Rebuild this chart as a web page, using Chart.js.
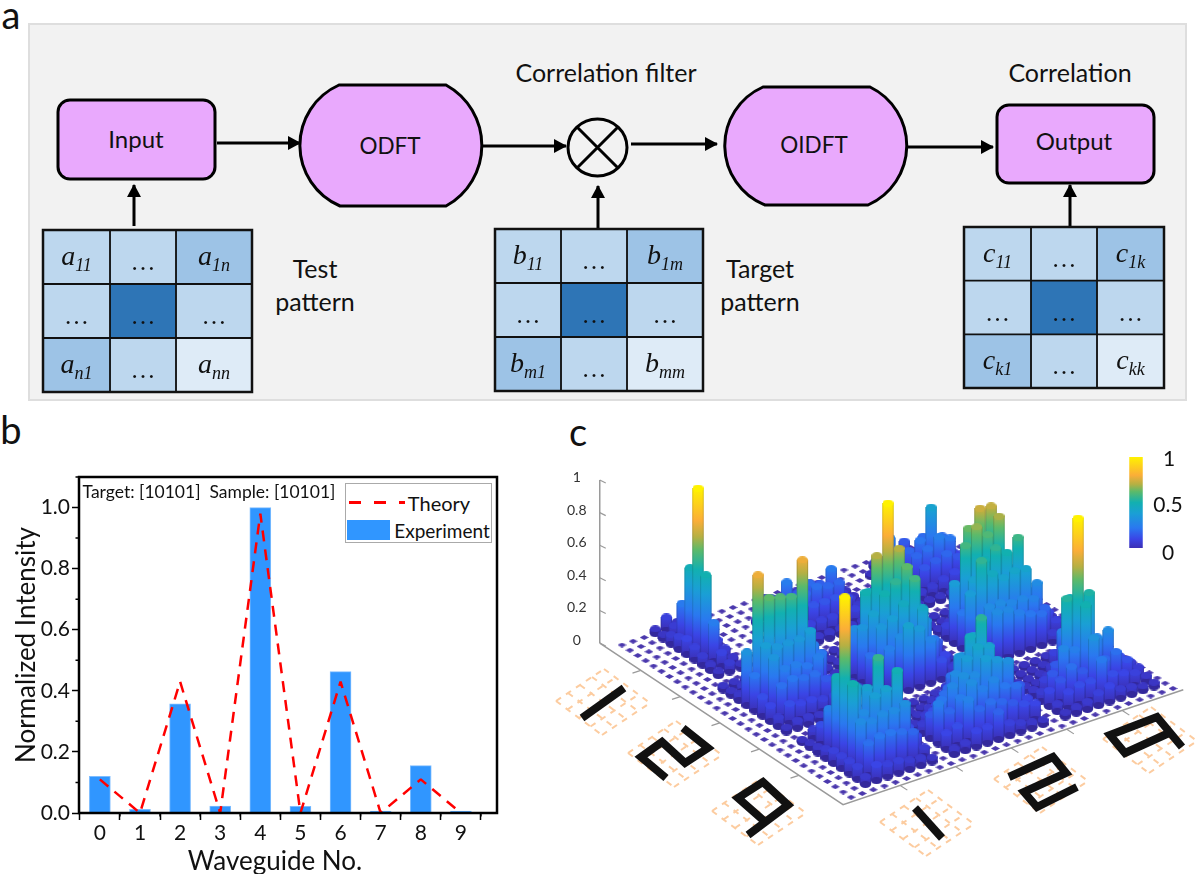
<!DOCTYPE html>
<html lang="en">
<head>
<meta charset="UTF-8">
<title>Optical correlation figure</title>
<script src="https://cdn.jsdelivr.net/npm/chart.js@4"></script>
<style>
html, body { margin: 0; padding: 0; background: #fff; }
body { width: 1200px; height: 874px; position: relative; overflow: hidden; font-family: Lato, "Open Sans", sans-serif; color: #111; }
canvas, .abs { position: absolute; }
.t { position: absolute; transform: translate(-50%, -50%); white-space: nowrap; line-height: 1; }
.cell { position: absolute; transform: translate(-50%, -50%); font: italic 28px "Liberation Serif", serif; white-space: nowrap; }
.cell sub { font-size: 18px; vertical-align: -6px; }
.dots { font-style: normal; font-size: 25px; transform: translate(-50%, -35%); }
</style>
</head>
<body>

<!-- panel a schematic -->
<div class="abs" style="left:28px;top:23px;width:1155px;height:374px;background:#f2f2f2;border:2px solid #dedede"></div>
<svg class="abs" style="left:0;top:0" width="1200" height="410">
  <defs>
    <marker id="head" markerUnits="userSpaceOnUse" markerWidth="14" markerHeight="14" refX="12" refY="7" orient="auto">
      <path d="M0 0 L13 7 L0 14 Z" fill="#000"/>
    </marker>
  </defs>
  <g fill="#e9a9fd" stroke="#000" stroke-width="3">
    <rect x="58" y="100" width="157" height="79" rx="12"/>
    <rect x="997" y="105" width="157" height="78" rx="12"/>
    <path d="M339 85 H446 A69 69 0 0 1 446 206 H340 A66 66 0 0 1 339 85 Z"/>
    <path d="M763 87 H870 A65 65 0 0 1 868 205 H765 A64 64 0 0 1 763 87 Z"/>
  </g>
  <g fill="none" stroke="#000" stroke-width="3">
    <ellipse cx="597.5" cy="147.5" rx="29.5" ry="28.5"/>
    <path d="M577 127 L618 168 M618 127 L577 168"/>
    <path d="M217 143 H300" marker-end="url(#head)"/>
    <path d="M483 146 H566" marker-end="url(#head)"/>
    <path d="M631 144 H717" marker-end="url(#head)"/>
    <path d="M908 147 H993" marker-end="url(#head)"/>
    <path d="M134 226 V185" marker-end="url(#head)"/>
    <path d="M598 228 V186" marker-end="url(#head)"/>
    <path d="M1070 226 V185" marker-end="url(#head)"/>
  </g>
</svg>
<canvas id="matrixA" style="left:41px;top:228px"></canvas>
<canvas id="matrixB" style="left:493px;top:227px"></canvas>
<canvas id="matrixC" style="left:962px;top:225px"></canvas>

<div class="t" style="left:11px;top:14px;font-size:38px">a</div>
<div class="t" style="left:11px;top:429px;font-size:38px">b</div>
<div class="t" style="left:578px;top:431px;font-size:38px">c</div>
<div class="t" style="left:136px;top:139px;font-size:24px">Input</div>
<div class="t" style="left:390px;top:146px;font-size:22.5px">ODFT</div>
<div class="t" style="left:814px;top:145px;font-size:22.5px">OIDFT</div>
<div class="t" style="left:1074px;top:141px;font-size:24px">Output</div>
<div class="t" style="left:606px;top:72px;font-size:25px">Correlation filter</div>
<div class="t" style="left:1070px;top:72px;font-size:25px">Correlation</div>
<div class="t" style="left:315px;top:268px;font-size:25px">Test</div>
<div class="t" style="left:315px;top:301px;font-size:25px">pattern</div>
<div class="t" style="left:760px;top:268px;font-size:25px">Target</div>
<div class="t" style="left:760px;top:301px;font-size:25px">pattern</div>

<!-- panel b -->
<canvas id="barChart" style="left:0;top:440px"></canvas>
<div class="t" style="left:209px;top:492px;font-size:17.5px">Target: [10101]&nbsp;&nbsp;Sample: [10101]</div>
<div class="abs" style="left:345px;top:483px;width:145px;height:58px;background:#fff;border:1px solid #aaa"></div>
<div class="abs" style="left:349px;top:501px;width:12px;height:3px;background:#ff0000"></div>
<div class="abs" style="left:374px;top:501px;width:12px;height:3px;background:#ff0000"></div>
<div class="abs" style="left:399px;top:501px;width:6px;height:3px;background:#ff0000"></div>
<div class="abs" style="left:347px;top:520px;width:43px;height:20px;background:#3096ff"></div>
<div class="t" style="left:439px;top:503px;font-size:20px">Theory</div>
<div class="t" style="left:442px;top:530px;font-size:19px">Experiment</div>
<div class="t" style="left:275px;top:860px;font-size:26px">Waveguide No.</div>

<!-- panel c -->
<canvas id="barGrid" style="left:540px;top:440px"></canvas>
<div id="zLabels"></div>
<div class="t" style="left:1169px;top:457px;font-size:21px">1</div>
<div class="t" style="left:1168px;top:503px;font-size:21px">0.5</div>
<div class="t" style="left:1168px;top:551px;font-size:21px">0</div>

<script>
// panel b values
const waveguides = [0, 1, 2, 3, 4, 5, 6, 7, 8, 9];
const experiment = [0.12, 0.012, 0.357, 0.023, 1.0, 0.022, 0.463, 0.006, 0.155, 0.006];
const theory = [0.11, 0, 0.43, 0, 0.98, 0, 0.43, 0, 0.11, 0];
const yTicks = [0, 0.2, 0.4, 0.6, 0.8, 1.0];

// panel a matrices: colour level of each cell, column widths, cell text
const cellLevels = [[1, 1, 2], [1, 3, 1], [2, 1, 0]];
const levelColors = ['#deebf7', '#bdd7ee', '#9dc3e6', '#2e75b6'];
const colsA = [67, 66, 76];
const colsB = [66, 66, 76];
const colsC = [67, 66, 67];
const textA = [['a', '11'], null, ['a', '1n'], null, null, null, ['a', 'n1'], null, ['a', 'nn']];
const textB = [['b', '11'], null, ['b', '1m'], null, null, null, ['b', 'm1'], null, ['b', 'mm']];
const textC = [['c', '11'], null, ['c', '1k'], null, null, null, ['c', 'k1'], null, ['c', 'kk']];

// panel c heights in percent, one 9x9 block per target/sample pair (rows go along the left edge)
const corrA = [
  [0,0,0,3,8,3,0,0,0],[0,0,0,3,6,4,0,0,0],[0,0,0,6,23,6,0,0,0],[0,0,0,8,48,8,0,0,0],[0,0,0,10,100,10,0,0,0],
  [0,0,0,8,50,8,0,0,0],[0,0,0,6,24,6,0,0,0],[0,0,0,4,9,4,0,0,0],[0,0,0,3,6,3,0,0,0]];
const corrB = [
  [0,0,3,3,3,3,3,3,3],[0,0,3,4,4,4,4,4,3],[0,0,4,6,6,6,6,6,4],[0,0,33,78,62,60,58,78,24],[0,0,22,38,35,35,35,38,22],
  [0,0,12,34,25,25,22,25,10],[0,0,10,20,22,20,20,15,8],[0,0,6,12,10,10,8,8,5],[0,0,3,5,5,4,4,3,3]];
const corrC = [
  [0,0,2,6,3,2,2,2,2],[0,0,3,12,5,3,3,3,2],[0,0,4,25,5,5,5,4,3],[0,0,6,48,10,8,8,6,3],[0,0,8,100,43,40,56,30,6],
  [0,0,8,50,30,38,40,49,12],[0,0,8,30,28,30,30,32,10],[0,0,8,20,22,22,20,18,6],[0,0,5,10,8,8,6,5,3]];
const corrD = [
  [0,0,0,0,0,0,0,0,0],[0,0,5,2,2,2,2,2,0],[0,2,8,3,3,3,3,3,2],[2,3,10,6,6,6,8,4,2],[2,6,24,15,19,16,23,6,2],
  [2,6,18,18,20,18,18,6,2],[2,5,12,14,14,14,12,5,2],[2,3,8,8,8,8,8,3,2],[0,2,4,4,4,4,4,2,0]];
const corrE = [
  [2,2,2,3,4,3,2,2,2],[2,2,3,6,8,6,3,2,2],[2,3,8,15,25,15,8,3,2],[2,8,20,45,55,45,15,6,2],[3,30,50,70,100,70,30,10,3],
  [3,34,40,50,55,62,35,12,3],[3,20,35,38,45,58,30,15,3],[2,12,25,30,28,43,22,10,2],[2,6,12,40,36,27,12,6,2]];
const corrF = [
  [2,2,2,2,3,5,5,2,2],[2,2,2,4,6,12,15,5,2],[2,3,5,8,20,30,40,15,5],[3,6,10,18,35,45,54,25,6],[6,12,20,30,37,42,40,28,8],
  [15,22,28,32,30,38,35,32,15],[25,18,24,31,25,28,22,20,10],[10,12,26,18,20,18,15,12,10],[4,5,10,10,17,8,6,4,3]];
const corrG = [
  [0,0,0,0,0,0,0,0,0],[0,0,3,2,2,2,2,0,0],[0,2,8,5,15,5,5,2,0],[0,10,25,10,12,19,15,3,0],[2,8,15,18,22,40,20,8,2],
  [2,5,12,18,20,25,22,10,2],[2,3,8,14,16,18,14,6,2],[2,3,5,6,8,10,8,4,2],[0,3,3,3,3,3,3,3,0]];
const corrH = [
  [2,2,2,3,3,3,2,2,2],[2,2,3,10,10,4,2,2,2],[3,5,20,30,30,15,3,2,2],[8,20,63,73,72,20,6,2,2],[37,58,67,60,69,35,10,3,2],
  [22,40,50,55,50,57,22,8,2],[37,55,45,40,42,41,30,10,3],[10,30,30,28,28,26,18,8,3],[5,30,29,25,22,20,6,3,2]];
const corrI = [
  [2,2,2,2,3,2,2,2,2],[2,2,2,3,8,3,2,2,2],[2,2,3,5,24,5,3,2,2],[3,3,5,10,48,10,5,3,2],[4,8,15,53,100,52,20,8,3],
  [6,15,28,25,50,28,30,12,6],[10,14,20,15,33,18,20,13,6],[5,10,12,12,23,12,10,8,4],[3,4,5,8,10,6,5,3,3]];
const blockGrid = [[corrA, corrD, corrG], [corrB, corrE, corrH], [corrC, corrF, corrI]];
const zTicks = [0, 0.2, 0.4, 0.6, 0.8, 1];

// colour ramp of the 3D bars
const rampZ = [0, 0.1, 0.22, 0.38, 0.5, 0.62, 0.7, 0.8, 1];
const rampC = ['#3b2fb5', '#3a45e6', '#2a78f0', '#1a9fd5', '#12b0b0', '#5cba6a', '#b5b043', '#fbae38', '#fff200'];

// digit strokes on the floor of panel c
const digitStrokes = [
  [[582,718],[624,688]],
  [[666,778],[641,757],[662,742],[685,763],[708,748],[683,728]],
  [[748,835],[788,805],[763,782],[738,798],[763,820]],
  [[915,808],[942,838]],
  [[1009,777],[1053,757],[1066,773],[1024,792],[1037,807],[1077,787]],
  [[1182,747],[1157,717],[1110,735],[1125,753],[1169,733]]
];
const digitCenters = [[603,702],[675,754],[759,812],[927,823],[1041,780],[1150,740]];

Chart.defaults.animation = false;
Chart.defaults.font.family = 'Lato';
Chart.defaults.plugins.legend.display = false;
Chart.defaults.plugins.tooltip.enabled = false;

function sizeCanvas(el, w, h) {
  el.style.width = w + 'px';
  el.style.height = h + 'px';
  el.width = w;
  el.height = h;
}

const matrixFrame = {
  id: 'matrixFrame',
  afterDraw(chart) {
    const { ctx, chartArea: a } = chart;
    ctx.save();
    ctx.strokeStyle = '#111';
    ctx.lineWidth = 2.5;
    ctx.strokeRect(a.left, a.top, a.right - a.left, a.bottom - a.top);
    ctx.restore();
  }
};

// ---- panel a: matrices are stacked bars, one dataset per column
function drawMatrix(id, cols, height, texts) {
  const el = document.getElementById(id);
  const width = cols.reduce((a, b) => a + b, 0);
  sizeCanvas(el, width + 4, height + 4);
  new Chart(el, {
    type: 'bar',
    data: {
      labels: ['r1', 'r2', 'r3'],
      datasets: cols.map((w, c) => ({
        data: [w, w, w],
        backgroundColor: cellLevels.map(row => levelColors[row[c]]),
        borderColor: '#111',
        borderWidth: 1.25,
        borderSkipped: false,
        barPercentage: 1,
        categoryPercentage: 1
      }))
    },
    options: {
      indexAxis: 'y',
      responsive: false,
      layout: { padding: 2 },
      scales: {
        x: { stacked: true, display: false, min: 0, max: width },
        y: { stacked: true, display: false }
      }
    },
    plugins: [matrixFrame]
  });
  const left = parseFloat(el.style.left) + 2;
  const top = parseFloat(el.style.top) + 2;
  let x = left;
  cols.forEach((w, c) => {
    for (let r = 0; r < 3; r++) {
      const d = document.createElement('div');
      const t = texts[r * 3 + c];
      d.className = t ? 'cell' : 'cell dots';
      d.innerHTML = t ? t[0] + '<sub>' + t[1] + '</sub>' : '\u2026';
      d.style.left = (x + w / 2) + 'px';
      d.style.top = (top + (r + 0.5) * height / 3 + 1) + 'px';
      document.body.appendChild(d);
    }
    x += w;
  });
}
drawMatrix('matrixA', colsA, 162, textA);
drawMatrix('matrixB', colsB, 162, textB);
drawMatrix('matrixC', colsC, 161, textC);

// ---- panel b
const frameAndMinorTicks = {
  id: 'frameAndMinorTicks',
  afterDraw(chart) {
    const { ctx, chartArea: a, scales: { x, y } } = chart;
    ctx.save();
    ctx.strokeStyle = '#000';
    ctx.lineWidth = 1.5;
    ctx.beginPath();
    waveguides.forEach(v => {
      const px = x.getPixelForValue(v + 0.5);
      ctx.moveTo(px, a.bottom);
      ctx.lineTo(px, a.bottom + 3.5);
    });
    yTicks.forEach(v => {
      const py = y.getPixelForValue(v + 0.1);
      ctx.moveTo(a.left, py);
      ctx.lineTo(a.left - 3.5, py);
    });
    ctx.stroke();
    ctx.lineWidth = 2.5;
    ctx.strokeRect(a.left, a.top, a.right - a.left, a.bottom - a.top);
    ctx.restore();
  }
};
const barEl = document.getElementById('barChart');
sizeCanvas(barEl, 510, 434);
new Chart(barEl, {
  type: 'bar',
  data: {
    datasets: [
      {
        type: 'line',
        label: 'Theory',
        data: waveguides.map((w, i) => ({ x: w, y: theory[i] })),
        borderColor: '#ff0000',
        borderWidth: 2.5,
        borderDash: [11, 8],
        borderJoinStyle: 'bevel',
        pointRadius: 0,
        tension: 0
      },
      {
        label: 'Experiment',
        data: waveguides.map((w, i) => ({ x: w, y: experiment[i] })),
        backgroundColor: '#3096ff',
        borderColor: '#7cbcff',
        borderWidth: 1,
        barThickness: 21
      }
    ]
  },
  options: {
    responsive: false,
    layout: { padding: { top: 37, right: 13 } },
    scales: {
      x: {
        type: 'linear',
        offset: false,
        min: -0.52,
        max: 9.9,
        afterBuildTicks: s => { s.ticks = waveguides.map(v => ({ value: v })); },
        afterFit: s => { s.height = 61; },
        ticks: { color: '#111', font: { size: 21 }, padding: 1, maxRotation: 0, autoSkip: false, callback: v => String(v) },
        grid: { drawOnChartArea: false, tickLength: 7, tickColor: '#000', tickWidth: 1.5 },
        border: { display: false }
      },
      y: {
        min: 0,
        max: 1.1,
        afterBuildTicks: s => { s.ticks = yTicks.map(v => ({ value: v })); },
        afterFit: s => { s.width = 79; },
        ticks: { color: '#111', font: { size: 21 }, padding: 2, callback: v => v.toFixed(1) },
        grid: { drawOnChartArea: false, tickLength: 7, tickColor: '#000', tickWidth: 1.5 },
        border: { display: false },
        title: { display: true, text: 'Normalized Intensity', color: '#111', font: { size: 26 }, padding: { top: 11, bottom: 0 } }
      }
    }
  },
  plugins: [frameAndMinorTicks]
});

// ---- panel c: a projected bar grid on a chart whose scales run in page pixels
const GRID = 30;
function floorX(i, j) { return 622 + 7.9 * i + 11.1 * j; }
function floorY(i, j) { return 645 + 5.25 * i - 3.75 * j; }
const Z_PX = 163;

function hexToRgb(hex) {
  return [1, 3, 5].map(k => parseInt(hex.substr(k, 2), 16));
}
function rampColor(z, dark) {
  let k = 0;
  while (k < rampZ.length - 2 && z > rampZ[k + 1]) k++;
  const t = Math.min(1, (z - rampZ[k]) / (rampZ[k + 1] - rampZ[k]));
  const a = hexToRgb(rampC[k]);
  const b = hexToRgb(rampC[k + 1]);
  const f = dark ? 0.86 : 1;
  const c = a.map((v, n) => Math.round((v + (b[n] - v) * t) * f));
  return 'rgb(' + c.join(',') + ')';
}
function pillarGradient(ctx, h, base, dark) {
  const chart = ctx.chart;
  const sy = chart.scales.y;
  if (!sy || !chart.chartArea) return rampColor(h, dark);
  const y0 = sy.getPixelForValue(base);
  const y1 = sy.getPixelForValue(base - Z_PX * h);
  const g = chart.ctx.createLinearGradient(0, y0, 0, y1);
  g.addColorStop(0, rampColor(0, dark));
  rampZ.forEach(z => { if (z > 0 && z < h) g.addColorStop(z / h, rampColor(z, dark)); });
  g.addColorStop(1, rampColor(h, dark));
  return g;
}
function ellipseMark(color, w, h, diamond) {
  const c = document.createElement('canvas');
  c.width = w;
  c.height = h;
  const g = c.getContext('2d');
  g.fillStyle = color;
  g.beginPath();
  if (diamond) {
    g.moveTo(0, h / 2); g.lineTo(w / 2, 0); g.lineTo(w, h / 2); g.lineTo(w / 2, h); g.closePath();
  } else {
    g.ellipse(w / 2, h / 2, w / 2, h / 2, 0, 0, Math.PI * 2);
  }
  g.fill();
  return c;
}

// height of a grid cell, looked up in its block
function heightAt(i, j) {
  const r = Math.floor(i / 10), c = Math.floor(j / 10);
  const a = i % 10, b = j % 10;
  if (a === 9 || b === 9) return 0;
  return blockGrid[r][c][a][b] / 100;
}

const lineSet = (pts, color, width, extra) => Object.assign({
  data: pts.map(p => ({ x: p[0], y: p[1] })),
  showLine: true,
  borderColor: color,
  borderWidth: width,
  pointRadius: 0
}, extra || {});

// back to front; the array is reversed at the end because Chart.js paints the first dataset last
const layers = [];
const corner = (i, j) => [floorX(i, j), floorY(i, j)];
const L = corner(-1.2, -1.15), B = corner(29.6, -1.15), R = corner(29.6, 29.5);

// axes and ticks
layers.push(lineSet([L, [L[0], L[1] - Z_PX]], '#9a9a9a', 1.5));
zTicks.forEach(z => layers.push(lineSet([[L[0], L[1] - Z_PX * z], [L[0] + 6, L[1] - Z_PX * z + 3]], '#9a9a9a', 1.2)));
layers.push(lineSet([L, B, R], '#9a9a9a', 1.5));
[4, 9, 14, 19, 24].forEach(k => {
  layers.push(lineSet([corner(k, -1.15), corner(k, -1.9)], '#9a9a9a', 1.2));
  layers.push(lineSet([corner(29.6, k), corner(30.5, k)], '#9a9a9a', 1.2));
});

// orange dashed pattern behind each digit
digitCenters.forEach(c => {
  const ax = [23, 17], bx = [24, -16];
  [-1, -0.5, 0, 0.5, 1].forEach(k => {
    layers.push(lineSet([[c[0] + ax[0] * k - bx[0], c[1] + ax[1] * k - bx[1]], [c[0] + ax[0] * k + bx[0], c[1] + ax[1] * k + bx[1]]],
      '#fccca0', 2, { borderDash: [6, 6] }));
    layers.push(lineSet([[c[0] + bx[0] * k - ax[0], c[1] + bx[1] * k - ax[1]], [c[0] + bx[0] * k + ax[0], c[1] + bx[1] * k + ax[1]]],
      '#fccca0', 2, { borderDash: [6, 6] }));
  });
});
digitStrokes.forEach(s => layers.push(lineSet(s, '#111', 8, { borderJoinStyle: 'miter' })));

// flat cells are one point dataset of diamonds
const flatCells = [];
for (let i = 0; i < GRID; i++) {
  for (let j = 0; j < GRID; j++) {
    if (heightAt(i, j) === 0) flatCells.push({ x: floorX(i, j), y: floorY(i, j) });
  }
}
layers.push({ data: flatCells, pointStyle: ellipseMark('#4a38ad', 9, 5, true), pointRadius: 3 });

// standing cells, furthest first
const cells = [];
for (let i = 0; i < GRID; i++) {
  for (let j = 0; j < GRID; j++) {
    const h = heightAt(i, j);
    if (h > 0) cells.push({ i, j, h });
  }
}
cells.sort((a, b) => (a.i - a.j) - (b.i - b.j));
cells.forEach(c => {
  const x = floorX(c.i, c.j), y = floorY(c.i, c.j);
  const pts = [[x, y], [x, y - Z_PX * c.h]];
  layers.push(lineSet(pts, ctx => pillarGradient(ctx, c.h, y, true), 11.5));
  layers.push(lineSet(pts, ctx => pillarGradient(ctx, c.h, y, false), 9.5, {
    pointRadius: 4,
    pointStyle: [ellipseMark(rampColor(0, true), 11, 7), ellipseMark(rampColor(c.h, false), 11, 7)]
  }));
});

// colour bar
layers.push(lineSet([[1136, 548], [1136, 457]], ctx => {
  const sy = ctx.chart.scales.y;
  if (!sy || !ctx.chart.chartArea) return rampC[4];
  const g = ctx.chart.ctx.createLinearGradient(0, sy.getPixelForValue(548), 0, sy.getPixelForValue(457));
  rampZ.forEach((z, k) => g.addColorStop(z, rampC[k]));
  return g;
}, 13.5));

const gridEl = document.getElementById('barGrid');
sizeCanvas(gridEl, 660, 434);
new Chart(gridEl, {
  type: 'scatter',
  data: { datasets: layers.reverse() },
  options: {
    responsive: false,
    events: [],
    layout: { autoPadding: false },
    scales: {
      x: { type: 'linear', display: false, min: 540, max: 1200 },
      y: { type: 'linear', display: false, min: 440, max: 874, reverse: true }
    }
  }
});

zTicks.forEach(z => {
  const d = document.createElement('div');
  d.className = 't';
  d.textContent = String(z);
  d.style.cssText = 'left:' + (L[0] - 23) + 'px;top:' + (L[1] - 3 - Z_PX * z) + 'px;font-size:14px;color:#333';
  document.getElementById('zLabels').appendChild(d);
});
</script>
</body>
</html>
